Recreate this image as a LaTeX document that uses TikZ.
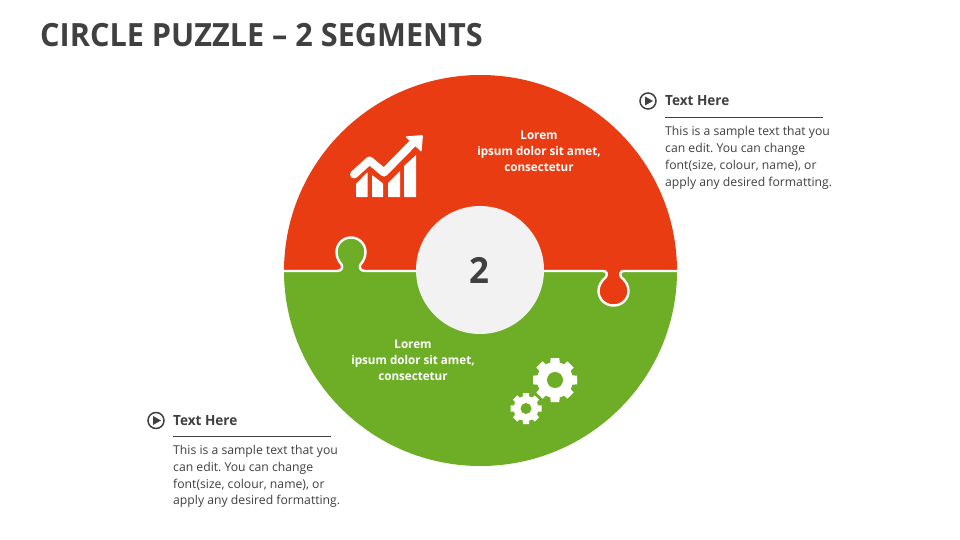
\documentclass[tikz,border=0pt]{standalone}
\usepackage{fontspec}
\setmainfont{Open Sans}
\newfontface\titleface[FakeStretch=0.957]{Open Sans Bold}
\newfontface\labelface[FakeStretch=0.968]{Open Sans Bold}
\definecolor{puzzred}{HTML}{EA3C13}
\definecolor{puzzgreen}{HTML}{6EAE27}
\definecolor{hubgray}{HTML}{F2F2F2}
\definecolor{inkgray}{HTML}{404040}
\tikzset{
  titletext/.style={anchor=west,inner sep=0pt,text=inkgray,font=\titleface\fontsize{32}{38}\selectfont},
  headtext/.style={anchor=west,inner sep=0pt,text=inkgray,font=\labelface\fontsize{14}{17}\selectfont},
  bodytext/.style={anchor=north west,inner sep=0pt,text=inkgray,align=left,font=\frenchspacing\fontsize{12.2}{16.8}\selectfont},
  pieceltext/.style={inner sep=0pt,text=white,align=center,font=\labelface\fontsize{12}{16}\selectfont},
  rulerline/.style={draw=inkgray,line width=0.9pt},
  playring/.style={draw=inkgray,line width=1.5pt,fill=white},
  seam/.style={draw=white,line width=2.4pt,line join=round},
  hubdisc/.style={circle,fill=hubgray,minimum size=128pt,inner sep=0pt},
}
\newcommand{\seampath}{(284,271) -- (337,271)
  .. controls (342,271) and (343,267) .. (341.5,264.5)
  .. controls (338.5,261) and (336.5,257) .. (336.5,252)
  .. controls (336.5,244) and (343,237.5) .. (351,237.5)
  .. controls (359,237.5) and (365.5,244) .. (365.5,252)
  .. controls (365.5,257) and (363.5,261) .. (360.5,264.5)
  .. controls (359,267) and (360,271) .. (365,271)
  -- (603,271)
  .. controls (607,271) and (607.5,274) .. (606,277)
  .. controls (601,281) and (598.5,286) .. (598.5,291)
  .. controls (598.5,299) and (605,305.5) .. (613.5,305.5)
  .. controls (622,305.5) and (628.5,299) .. (628.5,291)
  .. controls (628.5,286) and (626,281) .. (621,277)
  .. controls (619.5,274) and (620,271) .. (624,271)
  -- (677,271)}
\newcommand{\gearshape}[5]{% x,y,outer,body,hole
  \fill[white] (#1,#2) circle[radius=#4pt];
  \foreach \a in {0,45,...,315}{
    \fill[white,shift={(#1,#2)},rotate=\a]
      (-0.21*#3,-#4+1) -- (-0.2*#3,-#3) -- (0.2*#3,-#3) -- (0.21*#3,-#4+1) -- cycle;
  }
  \fill[puzzgreen] (#1,#2) circle[radius=#5pt];
}
\begin{document}
\begin{tikzpicture}[x=1pt,y=-1pt]
\useasboundingbox (0,0) rectangle (960,540);
\fill[white] (0,0) rectangle (960,540);
\node[titletext] (title) at (40,35) {CIRCLE PUZZLE – 2 SEGMENTS};
% puzzle pieces
\fill[puzzred] \seampath arc[start angle=0,end angle=180,x radius=196.5pt,y radius=196pt] -- cycle;
\fill[puzzgreen] \seampath arc[start angle=0,end angle=-180,x radius=196.5pt,y radius=195pt] -- cycle;
\draw[seam] \seampath;
\node[hubdisc] (hub) at (480,270) {};
\node[inner sep=0pt,text=inkgray,font=\labelface\fontsize{36}{40}\selectfont] (hubnum) at (479.5,270.5) {2};
% chart icon
\fill[white,rounded corners=0.5pt] (356,197) -- (356,184) -- (367.5,172) -- (367.5,197) -- cycle;
\fill[white,rounded corners=0.5pt] (372,197) -- (372,175) -- (383,183.5) -- (383,197) -- cycle;
\fill[white,rounded corners=0.5pt] (388,197) -- (388,183) -- (400,171) -- (400,197) -- cycle;
\fill[white,rounded corners=0.5pt] (404,197) -- (404,166) -- (416,155) -- (416,197) -- cycle;
\draw[white,line width=8pt,line cap=round,line join=round] (354,174.5) -- (369.5,160.5) -- (384,172.5) -- (413,143);
\fill[white,rounded corners=1pt] (405,136.5) -- (423,135) -- (421.5,152) -- cycle;
% gears
\gearshape{555}{380}{22}{18}{8}
\gearshape{526}{408.5}{15.5}{12.5}{5.5}
% piece labels
\node[pieceltext] (lblred) at (539,151) {Lorem\\ipsum dolor sit amet,\\consectetur};
\node[pieceltext] (lblgreen) at (413,360) {Lorem\\ipsum dolor sit amet,\\consectetur};
% right callout
\node[playring,circle,minimum size=16pt,inner sep=0pt] (playr) at (648,101) {};
\fill[inkgray] (645,96.5) -- (653,101) -- (645,105.5) -- cycle;
\node[headtext] (headr) at (665,100.5) {Text Here};
\coordinate (rulerra) at (665,117.5);
\coordinate (rulerrb) at (823,117.5);
\draw[rulerline] (rulerra) -- (rulerrb);
\node[bodytext] (bodyr) at (665,126.5) {This is a sample text that you\\can edit. You can change\\font(size, colour, name), or\\apply any desired formatting.};
% left callout
\node[playring,circle,minimum size=16pt,inner sep=0pt] (playl) at (156,420.5) {};
\fill[inkgray] (153,416) -- (161,420.5) -- (153,425) -- cycle;
\node[headtext] (headl) at (173,420.5) {Text Here};
\coordinate (rulerla) at (173,436);
\coordinate (rulerlb) at (331,436);
\draw[rulerline] (rulerla) -- (rulerlb);
\node[bodytext] (bodyl) at (173,445) {This is a sample text that you\\can edit. You can change\\font(size, colour, name), or\\apply any desired formatting.};
\end{tikzpicture}
\end{document}
